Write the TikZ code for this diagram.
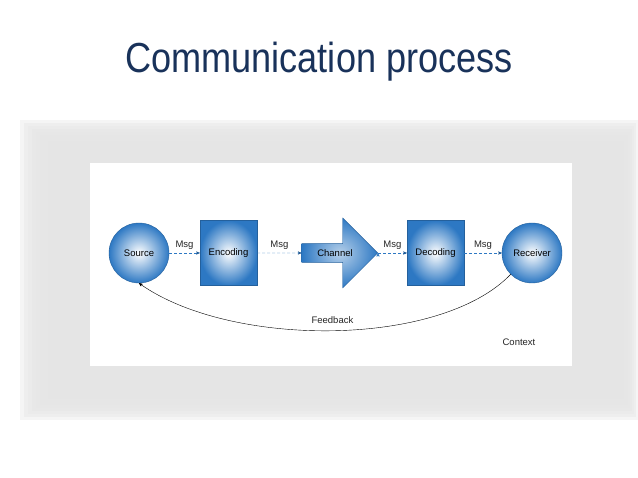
\documentclass[tikz,border=0pt]{standalone}
\usepackage{fontspec}
\setmainfont{Liberation Sans}
\usetikzlibrary{arrows,positioning,shapes}
\definecolor{ballblue}{RGB}{45,120,195}
\definecolor{titleblue}{RGB}{25,50,90}
\tikzset{
    >=stealth',
    % balls at both ends
    ball/.style={
           circle,
           draw=ballblue!80!black, thin,
           inner color=white, outer color=ballblue,
           minimum size=60pt,
           inner sep=0pt,
           font=\fontsize{9.5}{10}\selectfont},
    % square stages
    stage/.style={
           rectangle,
           draw=ballblue!80!black, thin,
           inner color=white, outer color=ballblue,
           minimum width=57pt, minimum height=65pt,
           inner sep=0pt,
           font=\fontsize{9.5}{10}\selectfont},
    chan/.style={
           single arrow,
           draw=ballblue!80!black, thin,
           inner color=ballblue!35, outer color=ballblue,
           minimum height=76pt, minimum width=70pt,
           single arrow head extend=10pt,
           inner sep=0pt,
           font=\fontsize{9.5}{10}\selectfont},
    lbl/.style={font=\fontsize{9.5}{10}\selectfont, text=black!85},
    % Define arrow style
    arr/.style={
           ->,
           densely dashed,
           thin,
           draw=ballblue,}
}
\begin{document}
\begin{tikzpicture}[x=1pt,y=1pt]
  \useasboundingbox (0,0) rectangle (638,478);
  % soft shadow behind the panel
  \foreach \i in {0,...,9}{
    \fill[black!10,opacity=0.4] (20+4*\i,58+3*\i) rectangle (638-2*\i,358-3*\i);
  }
  \fill[white] (90,112) rectangle (572,315);
  \node[text=titleblue, font=\fontsize{42}{46}\selectfont, xscale=0.86] (title) at (319,416) {Communication process};

  \node[ball] (source) at (139,225) {Source};
  \node[stage] (enc) at (228.5,225) {Encoding};
  \node[chan] (chan) at (335,225) {Channel\hspace{14pt}};
  \node[stage] (dec) at (435.5,225) {Decoding};
  \node[ball] (recv) at (532,225) {Receiver};

  \path [arr] (source) edge node[lbl,above]{Msg} (enc);
  \path [arr] (enc) edge node[lbl,above]{Msg} (chan);
  \path [arr] (chan.tip) edge node[lbl,above]{Msg} (dec);
  \path [arr] (dec) edge node[lbl,above]{Msg} (recv);

  \draw[->,thin] (recv.south west) .. controls (440,130) and (230,130) .. (source.south)
    node[lbl,pos=0.5,above=4pt] (fb) {Feedback};
  \node[lbl] (ctx) at (519,136) {Context};
\end{tikzpicture}
\end{document}
